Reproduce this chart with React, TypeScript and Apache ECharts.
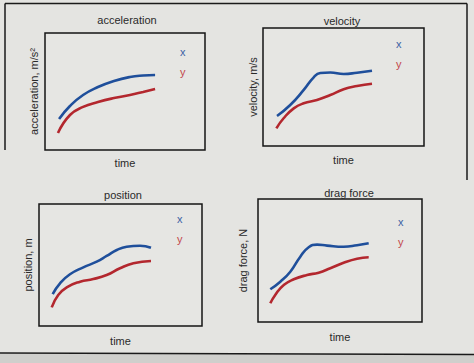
import React, { useEffect, useRef } from "react";
import * as echarts from "echarts";

// Values are on a 0–100 scale of each plot box (time → x, quantity → y)
const titles = ["acceleration", "velocity", "position", "drag force"];
const yNames = ["acceleration, m/s²", "velocity, m/s", "position, m", "drag force, N"];
const xName = "time";
const seriesNames = ["x", "y"];

const accTimeX = [8.8, 15.6, 23.8, 33.1, 43.1, 53.1, 61.3, 68.8];
const accX = [26.5, 37.6, 47.0, 53.8, 59.0, 62.4, 63.7, 64.1];
const accTimeY = [8.1, 15.6, 23.8, 33.1, 43.1, 53.1, 61.3, 68.8];
const accY = [14.5, 29.9, 36.8, 41.0, 44.4, 47.0, 49.6, 52.1];

const velTimeX = [8.7, 16.9, 25.3, 31.5, 35.6, 41.8, 50.1, 58.4, 67.7];
const velX = [25.4, 34.7, 47.5, 58.2, 61.8, 62.3, 61.0, 62.1, 63.8];
const velTimeY = [8.3, 12.8, 19.1, 25.3, 33.5, 41.8, 50.1, 58.4, 67.7];
const velY = [15.0, 23.5, 31.9, 36.2, 39.0, 43.2, 48.1, 50.8, 52.8];

const posTimeX = [8.4, 12.9, 19.0, 27.2, 35.4, 41.5, 47.7, 53.8, 62.0, 68.7];
const posX = [26.2, 35.0, 42.4, 48.1, 52.7, 57.4, 62.3, 65.0, 65.8, 64.2];
const posTimeY = [7.8, 11.8, 17.0, 25.2, 33.3, 41.5, 49.7, 57.9, 68.7];
const posY = [15.3, 25.4, 31.7, 36.3, 38.5, 41.8, 47.3, 51.4, 53.3];

const dragTimeX = [7.5, 13.6, 19.7, 25.8, 30.9, 36.0, 42.1, 52.2, 60.4, 67.5];
const dragX = [26.6, 32.8, 40.9, 53.1, 60.8, 62.9, 62.1, 61.2, 62.4, 64.0];
const dragTimeY = [7.5, 10.5, 15.7, 21.8, 29.9, 37.0, 44.1, 52.2, 60.4, 67.5];
const dragY = [15.2, 22.0, 30.1, 34.7, 38.2, 40.1, 43.7, 48.2, 51.5, 52.6];

const BLUE = "#1f4f9b";
const RED = "#b3272e";
const FONT = "Liberation Sans";

export default function App() {
  const ref = useRef<HTMLDivElement>(null);
  useEffect(() => {
    if (!ref.current) return;
    const chart = echarts.init(ref.current, undefined, { renderer: "svg" });

    const grids = [
      { left: 45, top: 33, width: 160, height: 117 },
      { left: 263, top: 28, width: 161, height: 118 },
      { left: 39, top: 204, width: 163, height: 122 },
      { left: 258, top: 199, width: 164, height: 123 },
    ];
    const yGaps = [6, 5, 6, 10];
    const xGaps = [7, 8, 9, 9];
    const titlePos = [
      [127, 20],
      [342, 21],
      [123, 195],
      [349, 193],
    ];
    const legendPos = [
      [170, 40],
      [386, 32],
      [167, 207],
      [388, 210],
    ];
    const data = [
      [accTimeX, accX, accTimeY, accY],
      [velTimeX, velX, velTimeY, velY],
      [posTimeX, posX, posTimeY, posY],
      [dragTimeX, dragX, dragTimeY, dragY],
    ];

    const series: any[] = [];
    data.forEach((d, i) => {
      [0, 1].forEach((k) => {
        const t = d[k * 2];
        const v = d[k * 2 + 1];
        series.push({
          type: "line",
          name: seriesNames[k],
          xAxisIndex: i,
          yAxisIndex: i,
          data: t.map((tt, j) => [tt, v[j]]),
          smooth: 0.5,
          showSymbol: false,
          lineStyle: { color: k === 0 ? BLUE : RED, width: 2.6 },
          itemStyle: { color: k === 0 ? BLUE : RED },
        });
      });
    });

    chart.setOption({
      animation: false,
      backgroundColor: "#e4e4e1",
      textStyle: { fontFamily: FONT },
      grid: grids.map((g) => ({
        ...g,
        show: true,
        borderColor: "#151515",
        borderWidth: 1.5,
        backgroundColor: "#e6e6e3",
      })),
      xAxis: grids.map((_, i) => ({
        type: "value",
        gridIndex: i,
        min: 0,
        max: 100,
        name: xName,
        nameLocation: "middle",
        nameGap: xGaps[i],
        nameTextStyle: { color: "#2a2a2a", fontSize: 11, fontFamily: FONT },
        axisLine: { show: false },
        axisTick: { show: false },
        axisLabel: { show: false },
        splitLine: { show: false },
      })),
      yAxis: grids.map((_, i) => ({
        type: "value",
        gridIndex: i,
        min: 0,
        max: 100,
        name: yNames[i],
        nameLocation: "middle",
        nameGap: yGaps[i],
        nameRotate: 90,
        nameTextStyle: { color: "#2a2a2a", fontSize: 11, fontFamily: FONT },
        axisLine: { show: false },
        axisTick: { show: false },
        axisLabel: { show: false },
        splitLine: { show: false },
      })),
      legend: legendPos.map((p) => ({
        left: p[0],
        top: p[1],
        orient: "vertical",
        icon: "none",
        itemWidth: 0,
        itemHeight: 14,
        itemGap: 7,
        selectedMode: false,
        data: [
          { name: "x", textStyle: { color: "#3d62a3", fontSize: 11, fontFamily: FONT } },
          { name: "y", textStyle: { color: "#c2464b", fontSize: 11, fontFamily: FONT } },
        ],
      })),
      graphic: [
        { type: "line", shape: { x1: 5, y1: 3.5, x2: 467, y2: 3.5 }, style: { stroke: "#1a1a1a", lineWidth: 1.5 } },
        { type: "line", shape: { x1: 5, y1: 3.5, x2: 5, y2: 150 }, style: { stroke: "#1a1a1a", lineWidth: 1.5 } },
        { type: "line", shape: { x1: 467, y1: 3.5, x2: 467, y2: 180 }, style: { stroke: "#1a1a1a", lineWidth: 1.5 } },
        { type: "rect", shape: { x: 0, y: 354, width: 474, height: 9 }, style: { fill: "#cfcfcc" } },
        { type: "line", shape: { x1: 0, y1: 353, x2: 474, y2: 354.5 }, style: { stroke: "#1a1a1a", lineWidth: 1.5 } },
        ...titles.map((t, i) => ({
          type: "text",
          x: titlePos[i][0],
          y: titlePos[i][1],
          style: {
            text: t,
            fill: "#2a2a2a",
            fontSize: 11,
            fontFamily: FONT,
            align: "center",
            verticalAlign: "middle",
          },
        })),
      ],
      series,
    });
    return () => chart.dispose();
  }, []);
  return (
    <div
      ref={ref}
      style={{ position: "fixed", left: 0, top: 0, width: 474, height: 363 }}
    />
  );
}
